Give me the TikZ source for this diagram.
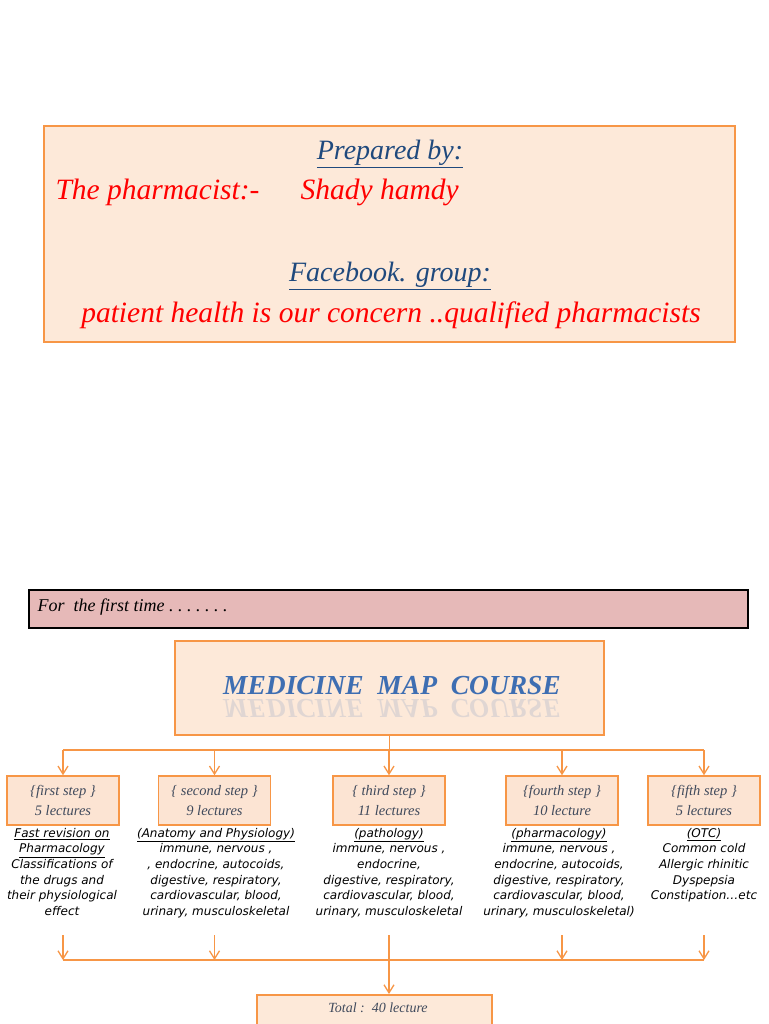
\documentclass[tikz,border=0pt]{standalone}
\usepackage{fontspec}
\newfontfamily\corsiva{Liberation Serif}
\newfontfamily\comic{DejaVu Sans}
\usetikzlibrary{arrows.meta}
\definecolor{orangeline}{RGB}{247,150,70}
\definecolor{peach}{RGB}{253,233,217}
\definecolor{stepfill}{RGB}{252,228,211}
\definecolor{bannerfill}{RGB}{230,185,184}
\definecolor{prepblue}{RGB}{31,73,125}
\definecolor{titleblue}{RGB}{62,110,178}
\definecolor{steptext}{RGB}{64,74,92}
\begin{document}
\begin{tikzpicture}[x=1pt,y=-1pt,
  box/.style={draw=orangeline,line width=1.5pt,fill=peach},
  stepbox/.style={box,fill=stepfill,minimum width=112pt,minimum height=49pt,align=center,text=steptext,font=\corsiva\itshape\fontsize{14.5}{19.5}\selectfont},
  bluetext/.style={text=prepblue,font=\corsiva\itshape\fontsize{28}{32}\selectfont},
  redtext/.style={text=red,font=\corsiva\itshape\fontsize{29.5}{32}\selectfont},
  notes/.style={anchor=north,align=center,inner sep=0pt,font=\comic\itshape\fontsize{12}{15.6}\selectfont},
  link/.style={draw=orangeline,line width=1.3pt},
  arr/.style={link,-{Straight Barb[length=8pt,width=10pt]}}]
\useasboundingbox[fill=white] (0,0) rectangle (768,1024);
% header
\node[box,minimum width=691pt,minimum height=216pt] (prep) at (389.5,234) {};
\node[bluetext] (by) at (390,154) {\underline{Prepared by:}};
\node[redtext,anchor=west] (who) at (52,192) {The pharmacist:-};
\node[redtext,anchor=west] (name) at (297,192) {Shady hamdy};
\node[bluetext] (fb) at (390,276) {\underline{Facebook. group:}};
\node[redtext] (grp) at (391,315) {patient health is our concern ..qualified pharmacists};
% banner and title
\node[draw=black,line width=1.6pt,fill=bannerfill,minimum width=719pt,minimum height=38pt,anchor=north west] (first) at (28,589) {};
\node[anchor=west,font=\corsiva\itshape\fontsize{18}{20}\selectfont] (firstt) at (34,607) {For\ \ the first time .\ .\ .\ .\ .\ .\ .};
\node[box,minimum width=429pt,minimum height=94pt] (title) at (389.5,688) {};
\node[text=titleblue,font=\corsiva\itshape\bfseries\fontsize{27.5}{30}\selectfont] (titlet) at (392,686) {MEDICINE\ \ MAP\ \ COURSE};
\node[text=titleblue,opacity=0.15,yscale=-1,transform shape,font=\corsiva\itshape\bfseries\fontsize{27.5}{30}\selectfont] (titler) at (392,708) {MEDICINE\ \ MAP\ \ COURSE};
% steps
\node[stepbox] (s1) at (63,800.5) {\{first step \}\\5 lectures};
\node[stepbox] (s2) at (214.5,800.5) {\{ second step \}\\9 lectures};
\node[stepbox] (s3) at (389,800.5) {\{ third step \}\\11 lectures};
\node[stepbox] (s4) at (562,800.5) {\{fourth step \}\\10 lecture};
\node[stepbox] (s5) at (704,800.5) {\{fifth step \}\\5 lectures};
\node[notes] (n1) at (62,828) {\underline{Fast revision on}\\\underline{Pharmacology}\\Classifications of\\the drugs and\\their physiological\\effect};
\node[notes] (n2) at (216,828) {\underline{(Anatomy and Physiology)}\\immune, nervous ,\\, endocrine, autocoids,\\digestive, respiratory,\\cardiovascular, blood,\\urinary, musculoskeletal};
\node[notes] (n3) at (389,828) {\underline{(pathology)}\\immune, nervous ,\\endocrine,\\digestive, respiratory,\\cardiovascular, blood,\\urinary, musculoskeletal};
\node[notes] (n4) at (559,828) {\underline{(pharmacology)}\\immune, nervous ,\\endocrine, autocoids,\\digestive, respiratory,\\cardiovascular, blood,\\urinary, musculoskeletal)};
\node[notes] (n5) at (704,828) {\underline{(OTC)}\\Common cold\\Allergic rhinitic\\Dyspepsia\\Constipation\dots etc};
% total
\node[box,minimum width=235pt,minimum height=60pt,anchor=north] (total) at (374.5,994) {};
\node[text=steptext,font=\corsiva\itshape\fontsize{14}{19}\selectfont] (totalt) at (378,1008) {Total :\ \ 40 lecture};
% connectors
\coordinate (bus) at (0,750);
\coordinate (low) at (0,935);
\coordinate (bot) at (0,960);
\draw[link] (title.south) -- (title.south |- bus);
\draw[link] (s1.north |- bus) -- (s5.north |- bus);
\foreach \s in {s1,s2,s3,s4,s5}
  \draw[arr] (\s.north |- bus) -- (\s.north);
\foreach \s in {s1,s2,s4,s5}
  \draw[arr] (\s |- low) -- (\s |- bot);
\draw[link] (s1 |- bot) -- (s5 |- bot);
\draw[arr] (s3 |- low) -- (s3 |- total.north);
\end{tikzpicture}
\end{document}
